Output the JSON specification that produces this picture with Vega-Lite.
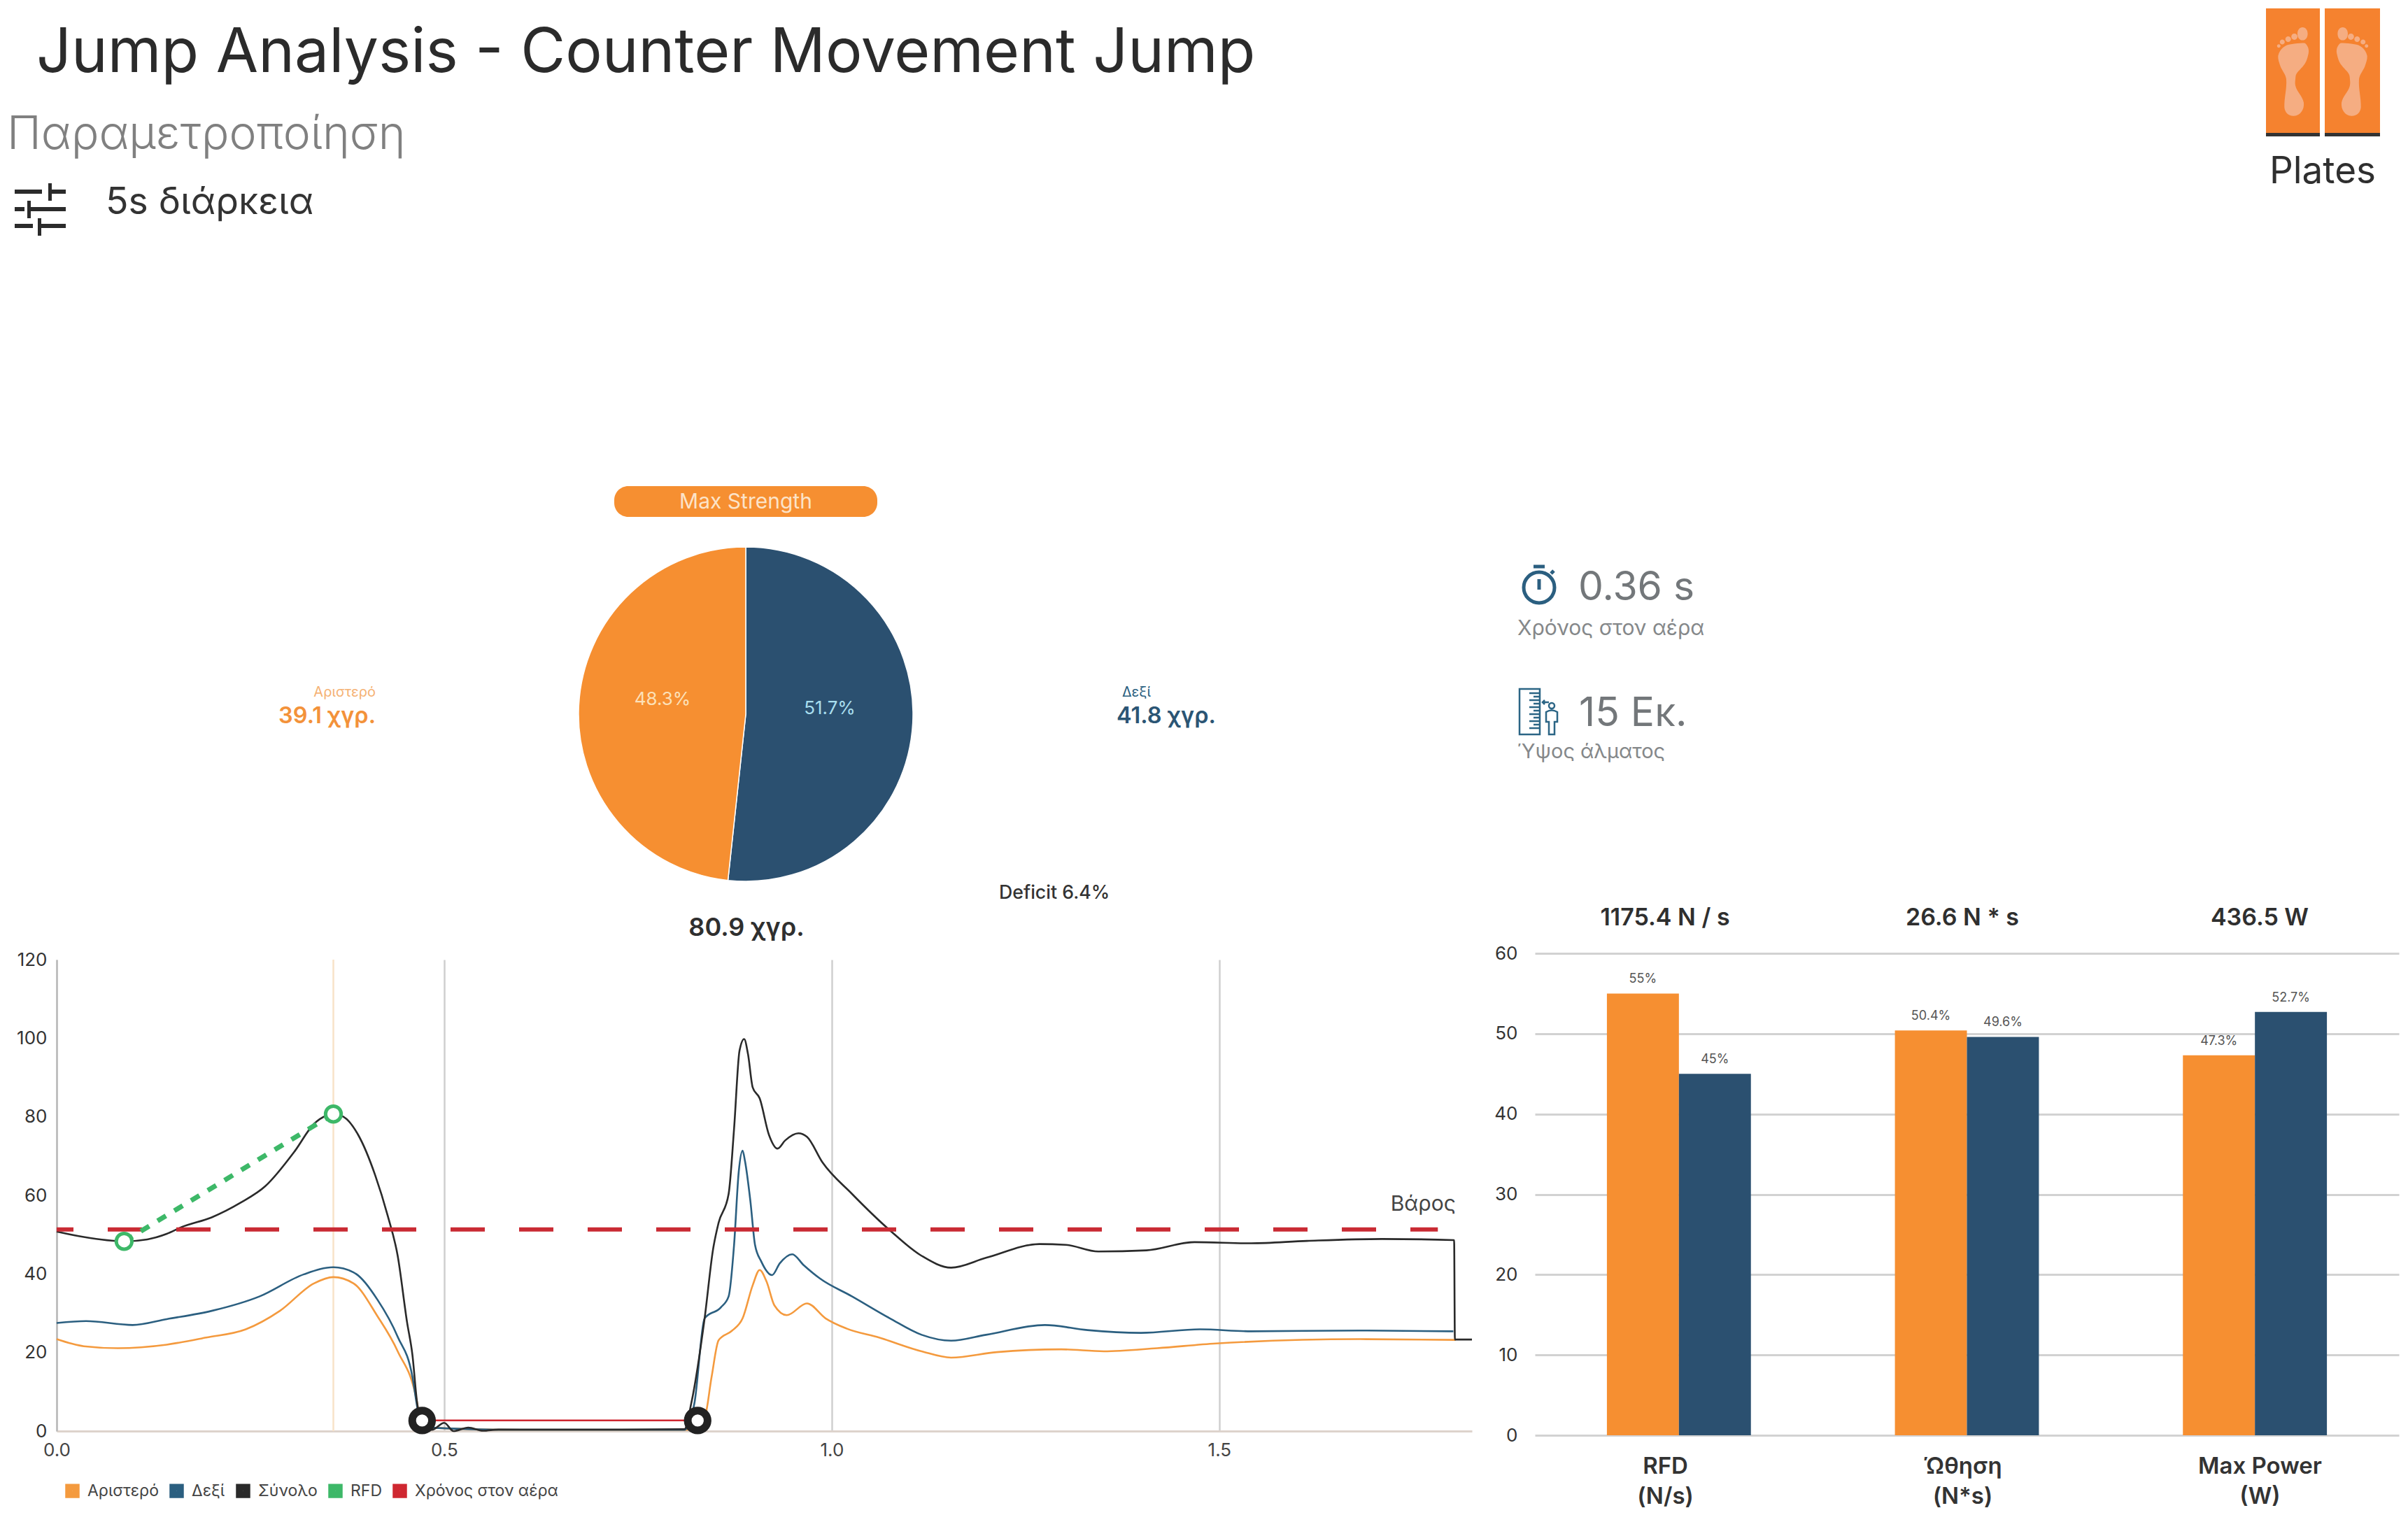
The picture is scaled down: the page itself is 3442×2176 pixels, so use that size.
{"$schema":"https://vega.github.io/schema/vega-lite/v6.json","padding":{"left":10,"top":0,"right":24,"bottom":112},"background":"white","bounds":"flush","spacing":0,
"config":{"view":{"stroke":null},"font":"Inter","text":{"font":"Inter"},"axis":{"labelFont":"Inter"},"legend":{"labelFont":"Inter"}},
"resolve":{"scale":{"color":"independent"},"legend":{"color":"independent"}},
"datasets":{
"force":[
{"t":0,"kg":23.4,"series":"Αριστερό"},{"t":0.035,"kg":21.6,"series":"Αριστερό"},{"t":0.079,"kg":21.1,"series":"Αριστερό"},{"t":0.142,"kg":22,"series":"Αριστερό"},{"t":0.193,"kg":23.8,"series":"Αριστερό"},{"t":0.244,"kg":25.9,"series":"Αριστερό"},{"t":0.288,"kg":30.6,"series":"Αριστερό"},{"t":0.332,"kg":37.6,"series":"Αριστερό"},{"t":0.357,"kg":39.2,"series":"Αριστερό"},{"t":0.383,"kg":37.6,"series":"Αριστερό"},{"t":0.414,"kg":29.2,"series":"Αριστερό"},{"t":0.44,"kg":20.3,"series":"Αριστερό"},{"t":0.465,"kg":7.3,"series":"Αριστερό"},{"t":0.47,"kg":1,"series":"Αριστερό"},{"t":0.6,"kg":0.3,"series":"Αριστερό"},{"t":0.812,"kg":0.3,"series":"Αριστερό"},{"t":0.836,"kg":3.5,"series":"Αριστερό"},{"t":0.845,"kg":13.8,"series":"Αριστερό"},{"t":0.854,"kg":23.1,"series":"Αριστερό"},{"t":0.871,"kg":25.5,"series":"Αριστερό"},{"t":0.885,"kg":28.7,"series":"Αριστερό"},{"t":0.898,"kg":37.1,"series":"Αριστερό"},{"t":0.907,"kg":41,"series":"Αριστερό"},{"t":0.916,"kg":38,"series":"Αριστερό"},{"t":0.926,"kg":32,"series":"Αριστερό"},{"t":0.942,"kg":29.5,"series":"Αριστερό"},{"t":0.968,"kg":32.5,"series":"Αριστερό"},{"t":0.992,"kg":28.7,"series":"Αριστερό"},{"t":1.019,"kg":26.1,"series":"Αριστερό"},{"t":1.061,"kg":23.8,"series":"Αριστερό"},{"t":1.116,"kg":20.3,"series":"Αριστερό"},{"t":1.154,"kg":18.7,"series":"Αριστερό"},{"t":1.213,"kg":20.1,"series":"Αριστερό"},{"t":1.296,"kg":20.8,"series":"Αριστερό"},{"t":1.351,"kg":20.3,"series":"Αριστερό"},{"t":1.42,"kg":21.1,"series":"Αριστερό"},{"t":1.496,"kg":22.3,"series":"Αριστερό"},{"t":1.682,"kg":23.4,"series":"Αριστερό"},{"t":1.805,"kg":23.2,"series":"Αριστερό"},
{"t":0,"kg":27.5,"series":"Δεξί"},{"t":0.038,"kg":28,"series":"Δεξί"},{"t":0.098,"kg":27,"series":"Δεξί"},{"t":0.142,"kg":28.5,"series":"Δεξί"},{"t":0.2,"kg":30.6,"series":"Δεξί"},{"t":0.262,"kg":34.3,"series":"Δεξί"},{"t":0.319,"kg":39.9,"series":"Δεξί"},{"t":0.357,"kg":41.7,"series":"Δεξί"},{"t":0.383,"kg":40.4,"series":"Δεξί"},{"t":0.414,"kg":33.4,"series":"Δεξί"},{"t":0.44,"kg":24,"series":"Δεξί"},{"t":0.459,"kg":13.8,"series":"Δεξί"},{"t":0.465,"kg":6.3,"series":"Δεξί"},{"t":0.47,"kg":1,"series":"Δεξί"},{"t":0.6,"kg":0.3,"series":"Δεξί"},{"t":0.81,"kg":0.3,"series":"Δεξί"},{"t":0.823,"kg":7.3,"series":"Δεξί"},{"t":0.836,"kg":28.7,"series":"Δεξί"},{"t":0.857,"kg":31.5,"series":"Δεξί"},{"t":0.867,"kg":34.3,"series":"Δεξί"},{"t":0.874,"kg":47.4,"series":"Δεξί"},{"t":0.88,"kg":66,"series":"Δεξί"},{"t":0.885,"kg":71.4,"series":"Δεξί"},{"t":0.888,"kg":68.8,"series":"Δεξί"},{"t":0.895,"kg":58.6,"series":"Δεξί"},{"t":0.901,"kg":47.4,"series":"Δεξί"},{"t":0.909,"kg":43.2,"series":"Δεξί"},{"t":0.923,"kg":39.7,"series":"Δεξί"},{"t":0.933,"kg":42.7,"series":"Δεξί"},{"t":0.949,"kg":45,"series":"Δεξί"},{"t":0.964,"kg":42.2,"series":"Δεξί"},{"t":0.985,"kg":38.8,"series":"Δεξί"},{"t":1.026,"kg":34.3,"series":"Δεξί"},{"t":1.075,"kg":28.7,"series":"Δεξί"},{"t":1.116,"kg":24.5,"series":"Δεξί"},{"t":1.154,"kg":23,"series":"Δεξί"},{"t":1.199,"kg":24.5,"series":"Δεξί"},{"t":1.275,"kg":27,"series":"Δεξί"},{"t":1.33,"kg":25.7,"series":"Δεξί"},{"t":1.399,"kg":25,"series":"Δεξί"},{"t":1.475,"kg":25.9,"series":"Δεξί"},{"t":1.541,"kg":25.4,"series":"Δεξί"},{"t":1.682,"kg":25.6,"series":"Δεξί"},{"t":1.802,"kg":25.4,"series":"Δεξί"},
{"t":0,"kg":50.8,"series":"Σύνολο"},{"t":0.035,"kg":49.4,"series":"Σύνολο"},{"t":0.087,"kg":48.3,"series":"Σύνολο"},{"t":0.117,"kg":48.8,"series":"Σύνολο"},{"t":0.142,"kg":50.2,"series":"Σύνολο"},{"t":0.161,"kg":51.9,"series":"Σύνολο"},{"t":0.2,"kg":54.4,"series":"Σύνολο"},{"t":0.237,"kg":58.1,"series":"Σύνολο"},{"t":0.269,"kg":62.3,"series":"Σύνολο"},{"t":0.307,"kg":71.2,"series":"Σύνολο"},{"t":0.332,"kg":78.2,"series":"Σύνολο"},{"t":0.348,"kg":80.3,"series":"Σύνολο"},{"t":0.357,"kg":80.7,"series":"Σύνολο"},{"t":0.37,"kg":80,"series":"Σύνολο"},{"t":0.389,"kg":75.4,"series":"Σύνολο"},{"t":0.411,"kg":65.1,"series":"Σύνολο"},{"t":0.427,"kg":54.9,"series":"Σύνολο"},{"t":0.44,"kg":44.6,"series":"Σύνολο"},{"t":0.452,"kg":27.8,"series":"Σύνολο"},{"t":0.459,"kg":19.4,"series":"Σύνολο"},{"t":0.465,"kg":7.3,"series":"Σύνολο"},{"t":0.47,"kg":2.6,"series":"Σύνολο"},{"t":0.484,"kg":0.3,"series":"Σύνολο"},{"t":0.5,"kg":2.1,"series":"Σύνολο"},{"t":0.512,"kg":0,"series":"Σύνολο"},{"t":0.531,"kg":0.9,"series":"Σύνολο"},{"t":0.55,"kg":0.1,"series":"Σύνολο"},{"t":0.57,"kg":0.4,"series":"Σύνολο"},{"t":0.7,"kg":0.4,"series":"Σύνολο"},{"t":0.81,"kg":0.5,"series":"Σύνολο"},{"t":0.819,"kg":7.3,"series":"Σύνολο"},{"t":0.836,"kg":28.7,"series":"Σύνολο"},{"t":0.847,"kg":46.4,"series":"Σύνολο"},{"t":0.854,"kg":53,"series":"Σύνολο"},{"t":0.867,"kg":60.4,"series":"Σύνολο"},{"t":0.874,"kg":77,"series":"Σύνολο"},{"t":0.881,"kg":96.8,"series":"Σύνολο"},{"t":0.887,"kg":99.8,"series":"Σύνολο"},{"t":0.892,"kg":95.9,"series":"Σύνολο"},{"t":0.898,"kg":87.5,"series":"Σύνολο"},{"t":0.907,"kg":84.7,"series":"Σύνολο"},{"t":0.919,"kg":75.4,"series":"Σύνολο"},{"t":0.93,"kg":71.9,"series":"Σύνολο"},{"t":0.94,"kg":74,"series":"Σύνολο"},{"t":0.957,"kg":75.8,"series":"Σύνολο"},{"t":0.968,"kg":74.9,"series":"Σύνολο"},{"t":0.988,"kg":68.4,"series":"Σύνολο"},{"t":1.026,"kg":60.4,"series":"Σύνολο"},{"t":1.075,"kg":51.1,"series":"Σύνολο"},{"t":1.116,"kg":44.6,"series":"Σύνολο"},{"t":1.154,"kg":41.6,"series":"Σύνολο"},{"t":1.199,"kg":44.1,"series":"Σύνολο"},{"t":1.268,"kg":47.6,"series":"Σύνολο"},{"t":1.302,"kg":47.4,"series":"Σύνολο"},{"t":1.344,"kg":45.7,"series":"Σύνολο"},{"t":1.406,"kg":46,"series":"Σύνολο"},{"t":1.468,"kg":48.1,"series":"Σύνολο"},{"t":1.541,"kg":47.8,"series":"Σύνολο"},{"t":1.613,"kg":48.4,"series":"Σύνολο"},{"t":1.71,"kg":48.9,"series":"Σύνολο"},{"t":1.803,"kg":48.6,"series":"Σύνολο"},{"t":1.804,"kg":23.3,"series":"Σύνολο"},{"t":1.826,"kg":23.3,"series":"Σύνολο"}],
"rfd":[{"t":0.087,"kg":48.3,"series":"RFD"},{"t":0.357,"kg":80.7,"series":"RFD"}],
"air":[{"t":0.4715,"kg":2.7,"series":"Χρόνος στον αέρα"},{"t":0.827,"kg":2.7,"series":"Χρόνος στον αέρα"}],
"weight":[{"t":0,"kg":51.3},{"t":1.782,"kg":51.3}],
"shares":[{"metric":"RFD","side":"Αριστερό","pct":55,"label":"55%"},{"metric":"RFD","side":"Δεξί","pct":45,"label":"45%"},{"metric":"Ώθηση","side":"Αριστερό","pct":50.4,"label":"50.4%"},{"metric":"Ώθηση","side":"Δεξί","pct":49.6,"label":"49.6%"},{"metric":"Max Power","side":"Αριστερό","pct":47.3,"label":"47.3%"},{"metric":"Max Power","side":"Δεξί","pct":52.7,"label":"52.7%"}],
"totals":[{"metric":"RFD\n(N/s)","total":"1175.4 N / s"},{"metric":"Ώθηση\n(N*s)","total":"26.6 N * s"},{"metric":"Max Power\n(W)","total":"436.5 W"}]
},
"vconcat":[
{"width":3361,"height":1372,
"layer":[
{"data":{"values":[{"label":"Jump Analysis - Counter Movement Jump"}]},"mark":{"type":"text","align":"left","baseline":"middle","fontSize":87.6,"color":"#2b2b2b"},"encoding":{"x":{"datum":52,"type":"quantitative","scale":{"domain":[0,3442],"range":[-81,3361],"nice":false},"axis":null},"y":{"datum":77,"type":"quantitative","scale":{"domain":[0,1372],"reverse":true,"nice":false},"axis":null},"text":{"field":"label"}}},
{"data":{"values":[{"label":"Παραμετροποίηση"}]},"mark":{"type":"text","align":"left","baseline":"middle","fontSize":66,"fontWeight":300,"color":"#808080"},"encoding":{"x":{"datum":10},"y":{"datum":193},"text":{"field":"label"}}},
{"data":{"values":[{"label":"5s διάρκεια"}]},"mark":{"type":"text","align":"left","baseline":"middle","fontSize":53.5,"color":"#333333"},"encoding":{"x":{"datum":151},"y":{"datum":290},"text":{"field":"label"}}},
{"data":{"values":[{"icon":"settings"}]},"mark":{"type":"point","filled":true,"opacity":1,"size":4,"color":"#2b2b2b","shape":"M-36 -27H3V-21H-36ZM12 -36H17V-11H12ZM17 -27H37V-21H17ZM-36 -2H-22V4H-36ZM-18 -11H-13V14H-18ZM-13 -2H37V4H-13ZM-36 22H-10V28H-36ZM-3 14H2V39H-3ZM2 22H37V28H2Z"},"encoding":{"x":{"datum":57},"y":{"datum":298}}},
{"data":{"values":[{"plate":"left"}]},"mark":{"type":"rect","color":"#F5822F"},"encoding":{"x":{"datum":3239},"x2":{"datum":3316},"y":{"datum":12},"y2":{"datum":190}}},
{"data":{"values":[{"plate":"right"}]},"mark":{"type":"rect","color":"#F5822F"},"encoding":{"x":{"datum":3323},"x2":{"datum":3402},"y":{"datum":12},"y2":{"datum":190}}},
{"data":{"values":[{"plate":"left"}]},"mark":{"type":"rect","color":"#333333"},"encoding":{"x":{"datum":3239},"x2":{"datum":3316},"y":{"datum":190},"y2":{"datum":195}}},
{"data":{"values":[{"plate":"right"}]},"mark":{"type":"rect","color":"#333333"},"encoding":{"x":{"datum":3323},"x2":{"datum":3402},"y":{"datum":190},"y2":{"datum":195}}},
{"data":{"values":[{"foot":"left"}]},"mark":{"type":"point","filled":true,"opacity":1,"size":4,"color":"#F5AD82","shape":"M-20.7 -23C-18 -34 -10 -39 -2.3 -39.7C6 -41 13 -42 17.7 -41.3C22 -38 24 -32 22.7 -26.3C21 -19 20 -15 16 -9.7C11 -3 4.5 1 4.3 7C4 12 3 15 4.3 20.3C6 28 14 34 16 43.7C17 54 11 62 2 62.7C-6 63 -11 58 -11.7 50.3C-12 36 -8 24 -9 10C-10 3 -15 -2 -17.3 -8C-19 -13 -21 -18 -20.7 -23ZM7 -54.7C7 -60 10 -64 14.3 -64C18.6 -64 21.6 -60 21.6 -54.7C21.6 -49 18.6 -45.4 14.3 -45.4C10 -45.4 7 -49 7 -54.7ZM-1.8 -50.7C-1.8 -53 0 -55 2.7 -55C5 -55 7 -53 7 -50.7C7 -48 5 -46 2.7 -46C0 -46 -1.8 -48 -1.8 -50.7ZM-10.3 -47C-10.3 -49 -8.5 -51 -6.3 -51C-4 -51 -2.3 -49 -2.3 -47C-2.3 -45 -4 -43 -6.3 -43C-8.5 -43 -10.3 -45 -10.3 -47ZM-18.2 -43C-18.2 -45 -16.5 -46.5 -14.7 -46.5C-13 -46.5 -11.2 -45 -11.2 -43C-11.2 -41 -13 -39.5 -14.7 -39.5C-16.5 -39.5 -18.2 -41 -18.2 -43ZM-22.2 -37.3C-22.2 -38.6 -21 -39.8 -19.7 -39.8C-18.4 -39.8 -17.2 -38.6 -17.2 -37.3C-17.2 -36 -18.4 -34.8 -19.7 -34.8C-21 -34.8 -22.2 -36 -22.2 -37.3Z"},"encoding":{"x":{"datum":3277},"y":{"datum":103}}},
{"data":{"values":[{"foot":"right"}]},"mark":{"type":"point","filled":true,"opacity":1,"size":4,"color":"#F5AD82","shape":"M20.7 -23C18 -34 10 -39 2.3 -39.7C-6 -41 -13 -42 -17.7 -41.3C-22 -38 -24 -32 -22.7 -26.3C-21 -19 -20 -15 -16 -9.7C-11 -3 -4.5 1 -4.3 7C-4 12 -3 15 -4.3 20.3C-6 28 -14 34 -16 43.7C-17 54 -11 62 -2 62.7C6 63 11 58 11.7 50.3C12 36 8 24 9 10C10 3 15 -2 17.3 -8C19 -13 21 -18 20.7 -23ZM-7 -54.7C-7 -60 -10 -64 -14.3 -64C-18.6 -64 -21.6 -60 -21.6 -54.7C-21.6 -49 -18.6 -45.4 -14.3 -45.4C-10 -45.4 -7 -49 -7 -54.7ZM1.8 -50.7C1.8 -53 0 -55 -2.7 -55C-5 -55 -7 -53 -7 -50.7C-7 -48 -5 -46 -2.7 -46C0 -46 1.8 -48 1.8 -50.7ZM10.3 -47C10.3 -49 8.5 -51 6.3 -51C4 -51 2.3 -49 2.3 -47C2.3 -45 4 -43 6.3 -43C8.5 -43 10.3 -45 10.3 -47ZM18.2 -43C18.2 -45 16.5 -46.5 14.7 -46.5C13 -46.5 11.2 -45 11.2 -43C11.2 -41 13 -39.5 14.7 -39.5C16.5 -39.5 18.2 -41 18.2 -43ZM22.2 -37.3C22.2 -38.6 21 -39.8 19.7 -39.8C18.4 -39.8 17.2 -38.6 17.2 -37.3C17.2 -36 18.4 -34.8 19.7 -34.8C21 -34.8 22.2 -36 22.2 -37.3Z"},"encoding":{"x":{"datum":3363},"y":{"datum":103}}},
{"data":{"values":[{"label":"Plates"}]},"mark":{"type":"text","align":"center","baseline":"middle","fontSize":53,"color":"#2f2f2f"},"encoding":{"x":{"datum":3320},"y":{"datum":246},"text":{"field":"label"}}},
{"data":{"values":[{"label":"pill"}]},"mark":{"type":"rect","color":"#F68F31","cornerRadius":20},"encoding":{"x":{"datum":878},"x2":{"datum":1254},"y":{"datum":695},"y2":{"datum":739}}},
{"data":{"values":[{"label":"Max Strength"}]},"mark":{"type":"text","align":"center","baseline":"middle","fontSize":30,"color":"#FCE3C8"},"encoding":{"x":{"datum":1066},"y":{"datum":718},"text":{"field":"label"}}},
{"data":{"values":[{"side":"Δεξί","value":51.7,"rank":1},{"side":"Αριστερό","value":48.3,"rank":2}]},"mark":{"type":"arc","outerRadius":239,"stroke":"#ffffff","strokeWidth":1.5},"encoding":{"x":{"datum":1066},"y":{"datum":1021},"theta":{"field":"value","type":"quantitative","stack":true,"scale":{"range":[0,6.2832]}},"order":{"field":"rank","type":"ordinal"},"color":{"field":"side","type":"nominal","scale":{"domain":["Αριστερό","Δεξί"],"range":["#F68F31","#2B5070"]},"legend":null}}},
{"data":{"values":[{"label":"48.3%"}]},"mark":{"type":"text","align":"center","baseline":"middle","fontSize":26,"color":"#FCE0B8"},"encoding":{"x":{"datum":947},"y":{"datum":1000},"text":{"field":"label"}}},
{"data":{"values":[{"label":"51.7%"}]},"mark":{"type":"text","align":"center","baseline":"middle","fontSize":26,"color":"#A8DEEE"},"encoding":{"x":{"datum":1186},"y":{"datum":1013},"text":{"field":"label"}}},
{"data":{"values":[{"label":"Αριστερό"}]},"mark":{"type":"text","align":"right","baseline":"middle","fontSize":20,"color":"#F5B274"},"encoding":{"x":{"datum":537},"y":{"datum":990},"text":{"field":"label"}}},
{"data":{"values":[{"label":"39.1 χγρ."}]},"mark":{"type":"text","align":"right","baseline":"middle","fontSize":32.5,"fontWeight":600,"color":"#F3923A"},"encoding":{"x":{"datum":537},"y":{"datum":1024},"text":{"field":"label"}}},
{"data":{"values":[{"label":"Δεξί"}]},"mark":{"type":"text","align":"left","baseline":"middle","fontSize":20,"color":"#2B6080"},"encoding":{"x":{"datum":1604},"y":{"datum":990},"text":{"field":"label"}}},
{"data":{"values":[{"label":"41.8 χγρ."}]},"mark":{"type":"text","align":"left","baseline":"middle","fontSize":32.5,"fontWeight":600,"color":"#2B5574"},"encoding":{"x":{"datum":1596},"y":{"datum":1024},"text":{"field":"label"}}},
{"data":{"values":[{"label":"Deficit 6.4%"}]},"mark":{"type":"text","align":"left","baseline":"middle","fontSize":26.7,"fontWeight":500,"color":"#333333"},"encoding":{"x":{"datum":1428},"y":{"datum":1277},"text":{"field":"label"}}},
{"data":{"values":[{"label":"80.9 χγρ."}]},"mark":{"type":"text","align":"center","baseline":"middle","fontSize":36,"fontWeight":600,"color":"#2f2f2f"},"encoding":{"x":{"datum":1067},"y":{"datum":1327},"text":{"field":"label"}}},
{"data":{"values":[{"icon":"stopwatch"}]},"mark":{"type":"point","filled":false,"opacity":1,"size":4,"strokeWidth":5,"color":"#2B5F80","shape":"M-22 0A22 22 0 1 1 22 0A22 22 0 1 1 -22 0M-8 -30H8M0 -12V3M17 -20L21 -24"},"encoding":{"x":{"datum":2200},"y":{"datum":840}}},
{"data":{"values":[{"label":"0.36 s"}]},"mark":{"type":"text","align":"left","baseline":"middle","fontSize":57,"color":"#73777A"},"encoding":{"x":{"datum":2256},"y":{"datum":841},"text":{"field":"label"}}},
{"data":{"values":[{"label":"Χρόνος στον αέρα"}]},"mark":{"type":"text","align":"left","baseline":"middle","fontSize":30,"color":"#85888A"},"encoding":{"x":{"datum":2169},"y":{"datum":899},"text":{"field":"label"}}},
{"data":{"values":[{"icon":"height"}]},"mark":{"type":"point","filled":false,"opacity":1,"size":4,"strokeWidth":2.5,"color":"#2B6585","shape":"M-28 -33H1V32H-28ZM1 -27H-14M1 -22H-8M1 -17H-14M1 -12H-8M1 -7H-14M1 -2H-8M1 3H-14M1 8H-8M1 13H-14M1 18H-8M1 23H-14M22 -9A4 4 0 1 1 14 -9A4 4 0 1 1 22 -9ZM10 0Q18 -5 26 0V14H22V32H14V14H10ZM14 -14H5M8 -17L5 -14L8 -11"},"encoding":{"x":{"datum":2200},"y":{"datum":1018}}},
{"data":{"values":[{"label":"15 Εκ."}]},"mark":{"type":"text","align":"left","baseline":"middle","fontSize":57,"color":"#73777A"},"encoding":{"x":{"datum":2257},"y":{"datum":1021},"text":{"field":"label"}}},
{"data":{"values":[{"label":"Ύψος άλματος"}]},"mark":{"type":"text","align":"left","baseline":"middle","fontSize":29,"color":"#85888A"},"encoding":{"x":{"datum":2169},"y":{"datum":1075},"text":{"field":"label"}}}
],
"resolve":{"scale":{"color":"independent","theta":"independent"}}},
{"bounds":"flush","spacing":79,"resolve":{"scale":{"color":"independent"},"legend":{"color":"independent"}},
"hconcat":[
{"width":2023,"height":674,
"layer":[
{"data":{"values":[{"marker":"peak"}]},"mark":{"type":"rule","color":"#F8E3C8","strokeWidth":2.5},"encoding":{"x":{"datum":0.357,"type":"quantitative","scale":{"domain":[0,1.826],"nice":false},"axis":{"values":[0,0.5,1,1.5],"format":".1f","grid":true,"gridColor":"#CFCFCF","gridWidth":2.5,"domainColor":"#DDD3CC","domainWidth":3,"ticks":false,"labelFontSize":26,"labelColor":"#444444","labelPadding":14,"title":null,"labelFlush":false}},"y":{"datum":0,"type":"quantitative","scale":{"domain":[0,120]},"axis":{"values":[0,20,40,60,80,100,120],"grid":false,"domainColor":"#BBBBBB","domainWidth":2.5,"ticks":false,"labelFontSize":26,"labelColor":"#333333","labelPadding":14,"title":null}},"y2":{"datum":120}}},
{"data":{"name":"air"},"mark":{"type":"line","strokeWidth":2.5},"encoding":{"x":{"field":"t","type":"quantitative"},"y":{"field":"kg","type":"quantitative"},"color":{"field":"series","type":"nominal","scale":{"domain":["Αριστερό","Δεξί","Σύνολο","RFD","Χρόνος στον αέρα"],"range":["#F49A3E","#2B5F80","#2A2A2A","#3DB868","#CF2730"]},"legend":{"orient":"none","legendX":11,"legendY":748,"direction":"horizontal","columns":5,"title":null,"symbolType":"square","symbolSize":110,"symbolStrokeWidth":10,"labelFontSize":23,"labelColor":"#444444","labelOffset":10,"columnPadding":0,"symbolOpacity":1,"labelLimit":0}}}},
{"data":{"name":"force"},"mark":{"type":"line","strokeWidth":2.6,"interpolate":"monotone"},"encoding":{"x":{"field":"t","type":"quantitative"},"y":{"field":"kg","type":"quantitative"},"color":{"field":"series","type":"nominal"},"order":{"field":"t","type":"quantitative"}}},
{"data":{"name":"weight"},"mark":{"type":"line","strokeWidth":6,"color":"#C92A33","strokeDash":[49,49],"strokeDashOffset":25},"encoding":{"x":{"field":"t","type":"quantitative"},"y":{"field":"kg","type":"quantitative"}}},
{"data":{"name":"rfd"},"mark":{"type":"line","strokeWidth":7,"strokeDash":[14,14]},"encoding":{"x":{"field":"t","type":"quantitative"},"y":{"field":"kg","type":"quantitative"},"color":{"field":"series","type":"nominal"}}},
{"data":{"name":"rfd"},"mark":{"type":"point","filled":false,"fill":"#ffffff","fillOpacity":1,"opacity":1,"size":500,"strokeWidth":5,"color":"#3DB868","stroke":"#3DB868"},"encoding":{"x":{"field":"t","type":"quantitative"},"y":{"field":"kg","type":"quantitative"}}},
{"data":{"name":"air"},"mark":{"type":"point","filled":false,"fill":"#ffffff","fillOpacity":1,"opacity":1,"size":800,"strokeWidth":11,"stroke":"#222222"},"encoding":{"x":{"field":"t","type":"quantitative"},"y":{"field":"kg","type":"quantitative"}}},
{"data":{"values":[{"label":"Βάρος"}]},"mark":{"type":"text","align":"right","baseline":"middle","fontSize":30,"color":"#444444"},"encoding":{"x":{"datum":1.805},"y":{"datum":57.6},"text":{"field":"label"}}}
]},
{"width":1235,"height":680,
"layer":[
{"data":{"name":"shares"},"layer":[
{"mark":{"type":"bar"},"encoding":{"x":{"field":"metric","type":"nominal","sort":["RFD","Ώθηση","Max Power"],"scale":{"range":[11,1246],"paddingInner":0.5,"paddingOuter":0.25},"axis":null},"xOffset":{"field":"side","type":"nominal","sort":["Αριστερό","Δεξί"],"scale":{"paddingInner":0,"paddingOuter":0}},"y":{"field":"pct","type":"quantitative","scale":{"domain":[0,60],"range":[680,-9]},"axis":{"values":[0,10,20,30,40,50,60],"grid":true,"gridColor":"#D2D2D2","gridWidth":3,"domain":false,"ticks":false,"labelFontSize":26,"labelColor":"#333333","labelPadding":14,"title":null}},"color":{"field":"side","type":"nominal","scale":{"domain":["Αριστερό","Δεξί"],"range":["#F68F31","#2B5070"]},"legend":null}}},
{"mark":{"type":"text","baseline":"middle","dy":-20,"fontSize":18,"color":"#555555"},"encoding":{"x":{"field":"metric","type":"nominal","sort":["RFD","Ώθηση","Max Power"]},"xOffset":{"field":"side","type":"nominal","sort":["Αριστερό","Δεξί"]},"y":{"field":"pct","type":"quantitative"},"text":{"field":"label"}}}
]},
{"data":{"name":"totals"},"mark":{"type":"text","baseline":"middle","fontSize":34,"fontWeight":600,"color":"#2f2f2f"},"encoding":{"x":{"field":"metric","type":"ordinal","sort":null,"scale":{"type":"point","range":[197,1047],"padding":0},"axis":{"orient":"bottom","domain":false,"ticks":false,"grid":false,"title":null,"labelAngle":0,"labelFontSize":33,"labelFontWeight":600,"labelColor":"#333333","labelPadding":28,"labelLineHeight":43,"labelExpr":"split(datum.label,'\\n')"}},"y":{"datum":64.35},"text":{"field":"total"}}}
],
"resolve":{"scale":{"x":"independent"},"axis":{"x":"independent"}}}
]}
]}
